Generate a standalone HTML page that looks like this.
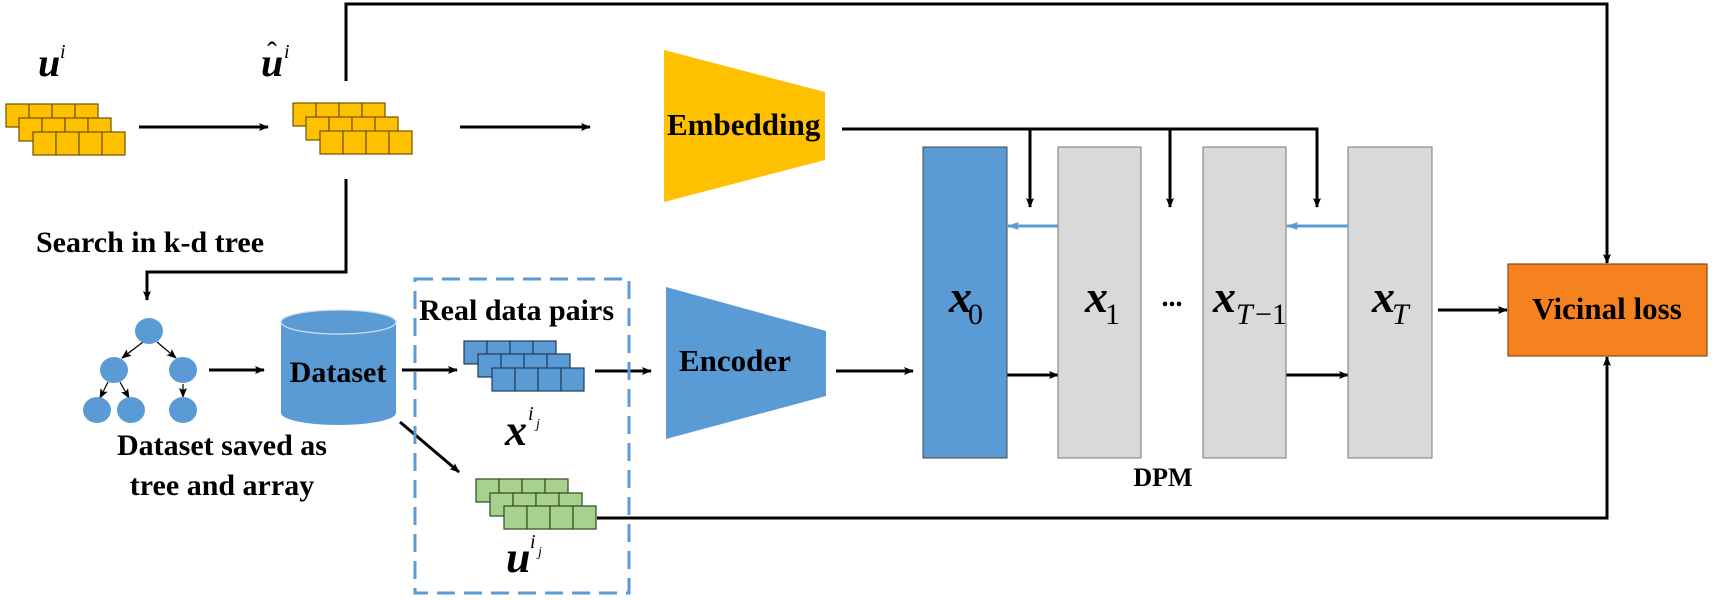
<!DOCTYPE html>
<html><head><meta charset="utf-8"><style>
html,body{margin:0;padding:0;background:#fff;}
svg{display:block;}
svg text{font-family:"Liberation Serif","Times New Roman",serif !important;font-weight:bold;fill:#000;}
svg text.m{font-style:italic;}
svg text.s{font-weight:normal;}
</style></head><body>
<svg width="1714" height="600" viewBox="0 0 1714 600" xmlns="http://www.w3.org/2000/svg" font-family="Liberation Serif, serif">
<defs>
<marker id="a" markerWidth="10" markerHeight="8" refX="9" refY="4" orient="auto" markerUnits="userSpaceOnUse"><path d="M0,0 L10,4 L0,8 L2,4 Z" fill="#000"/></marker>
<marker id="b" markerWidth="12" markerHeight="8" refX="11" refY="4" orient="auto" markerUnits="userSpaceOnUse"><path d="M0,0 L12,4 L0,8 L2,4 Z" fill="#5b9bd5"/></marker>
<g id="row"><rect x="0" y="0" width="23" height="23"/><rect x="23" y="0" width="23" height="23"/><rect x="46" y="0" width="23" height="23"/><rect x="69" y="0" width="23" height="23"/></g>
</defs>

<g fill="#ffc000" stroke="#6b5300" stroke-width="1.2">
<use href="#row" x="6" y="104"/><use href="#row" x="19" y="118"/><use href="#row" x="33" y="132"/>
<use href="#row" x="293" y="103"/><use href="#row" x="306" y="117"/><use href="#row" x="320" y="131"/>
</g>
<g fill="#5b9bd5" stroke="#1f3b5c" stroke-width="1.2">
<use href="#row" x="464" y="341"/><use href="#row" x="478" y="354"/><use href="#row" x="492" y="368"/>
</g>
<g fill="#a9d18e" stroke="#2e4a1e" stroke-width="1.2">
<use href="#row" x="476" y="479"/><use href="#row" x="490" y="493"/><use href="#row" x="504" y="506"/>
</g>

<text x="38" y="76" class="m" font-size="40">u</text><text x="60" y="58" class="m s" font-size="20">i</text>
<text x="261" y="76" class="m" font-size="40">u</text><text x="267" y="62" class="s" font-size="30">ˆ</text><text x="284" y="58" class="m s" font-size="20">i</text>

<g stroke="#000" stroke-width="3" fill="none">
<line x1="139" y1="127" x2="268" y2="127" marker-end="url(#a)"/>
<line x1="460" y1="127" x2="590" y2="127" marker-end="url(#a)"/>
<polyline points="346,81 346,4 1607,4 1607,263" marker-end="url(#a)"/>
<polyline points="346,179 346,272 147,272 147,300" marker-end="url(#a)"/>
<line x1="209" y1="370" x2="264" y2="370" marker-end="url(#a)"/>
<line x1="402" y1="370" x2="457" y2="370" marker-end="url(#a)"/>
<line x1="400" y1="422" x2="459" y2="472" marker-end="url(#a)"/>
<line x1="595" y1="371" x2="651" y2="371" marker-end="url(#a)"/>
<line x1="836" y1="371" x2="913" y2="371" marker-end="url(#a)"/>
<polyline points="842,129 1317,129 1317,207" marker-end="url(#a)"/>
<line x1="1030" y1="129" x2="1030" y2="207" marker-end="url(#a)"/>
<line x1="1170" y1="129" x2="1170" y2="207" marker-end="url(#a)"/>
<line x1="1007" y1="375" x2="1058" y2="375" marker-end="url(#a)"/>
<line x1="1286" y1="375" x2="1348" y2="375" marker-end="url(#a)"/>
<line x1="1438" y1="310" x2="1507" y2="310" marker-end="url(#a)"/>
<polyline points="597,518 1607,518 1607,357" marker-end="url(#a)"/>
</g>

<text x="36" y="252" font-size="30">Search in k-d tree</text>

<g stroke="#000" stroke-width="1.2" fill="none">
<line x1="143" y1="342" x2="122" y2="358" marker-end="url(#a)"/>
<line x1="157" y1="342" x2="176" y2="358" marker-end="url(#a)"/>
<line x1="108" y1="382" x2="100" y2="398" marker-end="url(#a)"/>
<line x1="120" y1="382" x2="129" y2="398" marker-end="url(#a)"/>
<line x1="183" y1="384" x2="183" y2="397" marker-end="url(#a)"/>
</g>
<g fill="#5b9bd5">
<ellipse cx="149" cy="331" rx="14" ry="13"/>
<ellipse cx="114" cy="370" rx="14" ry="13"/><ellipse cx="183" cy="370" rx="14" ry="13"/>
<ellipse cx="97" cy="410" rx="14" ry="13"/><ellipse cx="131" cy="410" rx="14" ry="13"/><ellipse cx="183" cy="410" rx="14" ry="13"/>
</g>
<text x="222" y="455" font-size="30" text-anchor="middle">Dataset saved as</text>
<text x="222" y="495" font-size="30" text-anchor="middle">tree and array</text>

<path d="M281,322 L281,413 A57.5,12 0 0 0 396,413 L396,322 Z" fill="#5b9bd5"/>
<ellipse cx="338.5" cy="322" rx="57.5" ry="12" fill="#5b9bd5" stroke="#cfe0f2" stroke-width="1.2"/>
<text x="338" y="382" font-size="30" text-anchor="middle">Dataset</text>

<rect x="415" y="279" width="214" height="314" fill="none" stroke="#5b9bd5" stroke-width="3" stroke-dasharray="18,9"/>
<text x="419" y="320" font-size="30">Real data pairs</text>
<text x="505" y="445" class="m" font-size="44">x</text><text x="528" y="420" class="m s" font-size="20">i</text><text x="536" y="428" class="m s" font-size="14">j</text>
<text x="506" y="572" class="m" font-size="44">u</text><text x="530" y="548" class="m s" font-size="20">i</text><text x="538" y="556" class="m s" font-size="14">j</text>

<polygon points="664,50 825,92 825,160 664,202" fill="#ffc000"/>
<text x="667" y="135" font-size="31">Embedding</text>
<polygon points="666,287 826,331 826,396 666,439" fill="#5b9bd5"/>
<text x="679" y="371" font-size="31">Encoder</text>

<rect x="923" y="147" width="84" height="311" fill="#5b9bd5" stroke="#444" stroke-width="1"/>
<rect x="1058" y="147" width="83" height="311" fill="#d9d9d9" stroke="#777" stroke-width="1"/>
<rect x="1203" y="147" width="83" height="311" fill="#d9d9d9" stroke="#777" stroke-width="1"/>
<rect x="1348" y="147" width="84" height="311" fill="#d9d9d9" stroke="#777" stroke-width="1"/>
<g stroke="#5b9bd5" stroke-width="3">
<line x1="1058" y1="226" x2="1008" y2="226" marker-end="url(#b)"/>
<line x1="1348" y1="226" x2="1287" y2="226" marker-end="url(#b)"/>
</g>
<text x="949" y="312" class="m" font-size="46">x</text><text x="968" y="324" class="s" font-size="30">0</text>
<text x="1085" y="312" class="m" font-size="46">x</text><text x="1105" y="324" class="s" font-size="30">1</text>
<text x="1172" y="306" font-size="28" text-anchor="middle">...</text>
<text x="1213" y="312" class="m" font-size="46">x</text><text x="1236" y="324" class="m s" font-size="30">T</text><text x="1255" y="324" class="s" font-size="30">−1</text>
<text x="1372" y="312" class="m" font-size="46">x</text><text x="1392" y="324" class="m s" font-size="30">T</text>
<text x="1163" y="486" font-size="26" text-anchor="middle">DPM</text>

<rect x="1508" y="264" width="199" height="92" fill="#f5821f" stroke="#8a4a1a" stroke-width="1.2"/>
<text x="1607" y="319" font-size="31" text-anchor="middle">Vicinal loss</text>
</svg>
</body></html>
